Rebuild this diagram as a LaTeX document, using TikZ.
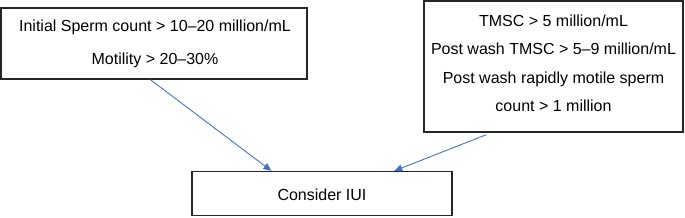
\documentclass[tikz,border=0pt]{standalone}
\usepackage{fontspec}
\setmainfont{Liberation Sans}
\usetikzlibrary{arrows.meta}
\definecolor{arrowblue}{RGB}{68,114,196}
\tikzset{
  box/.style={draw=black!85, line width=1.3pt, rectangle, inner sep=0pt},
  txt/.style={inner sep=0pt, font=\fontsize{16}{19}\selectfont, anchor=base},
  conn/.style={draw=arrowblue, line width=0.9pt, -{Triangle[length=8pt,width=7pt]}}
}
\begin{document}
\begin{tikzpicture}[x=1pt,y=1pt]
\useasboundingbox (0,0) rectangle (685,217);
\node[box, minimum width=306pt, minimum height=71pt] (b1) at (154,173.5) {};
\node[box, minimum width=259pt, minimum height=131pt] (b2) at (553.5,150.5) {};
\node[box, minimum width=260pt, minimum height=44pt] (b3) at (322,23.5) {};
% box 1 text
\node[txt] (t11) at (155,185) {Initial Sperm count > 10–20 million/mL};
\node[txt] (t12) at (155,152) {Motility > 20–30\%};
% box 2 text
\node[txt] (t21) at (553.5,190.5) {TMSC > 5 million/mL};
\node[txt] (t22) at (553.5,162) {Post wash TMSC > 5–9 million/mL};
\node[txt] (t23) at (553.5,133.5) {Post wash rapidly motile sperm};
\node[txt] (t24) at (553.5,105.5) {count > 1 million};
% box 3 text
\node[txt] (t31) at (322,17) {Consider IUI};
% connectors
\coordinate (a1s) at ([xshift=150pt]b1.south west);
\coordinate (a1e) at ([xshift=80pt]b3.north west);
\coordinate (a2s) at ([xshift=63pt,yshift=-2pt]b2.south west);
\coordinate (a2e) at ([xshift=203pt]b3.north west);
\draw[conn] (a1s) -- (a1e);
\draw[conn] (a2s) -- (a2e);
\end{tikzpicture}
\end{document}
